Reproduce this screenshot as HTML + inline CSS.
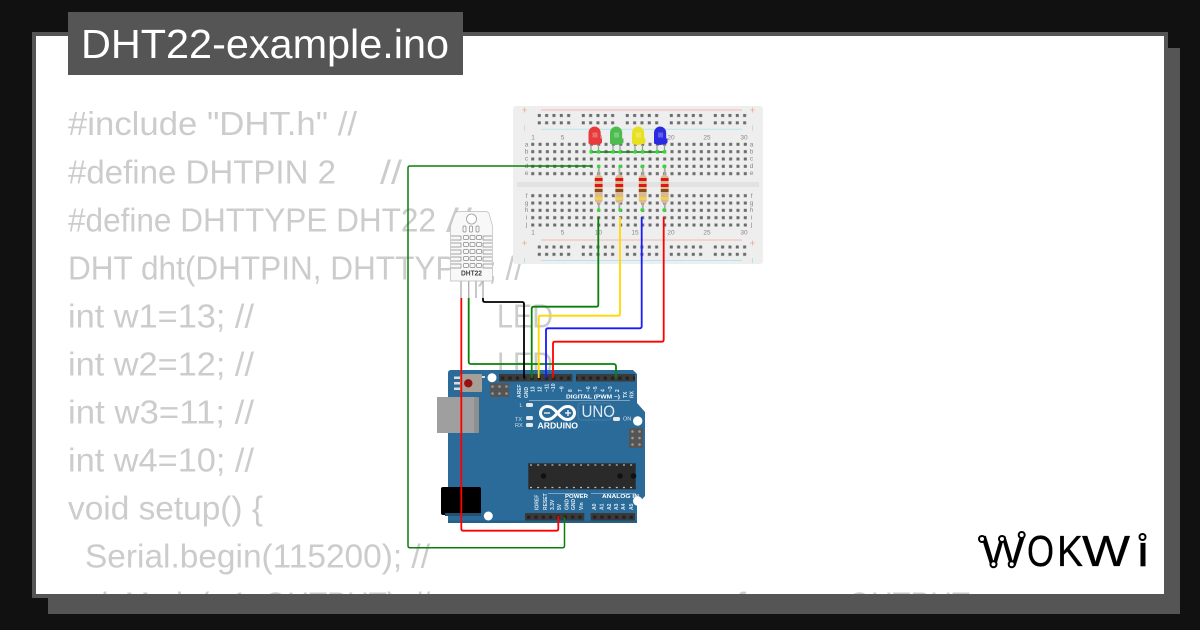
<!DOCTYPE html>
<html><head><meta charset="utf-8"><title>DHT22-example.ino</title>
<style>html,body{margin:0;padding:0;background:#111}svg{display:block}</style></head>
<body>
<svg xmlns="http://www.w3.org/2000/svg" width="1200" height="630" viewBox="0 0 1200 630">
<defs>
<clipPath id="card"><rect x="36" y="36" width="1128" height="558"/></clipPath>
<pattern id="main" patternUnits="userSpaceOnUse" x="529.03" y="140.63" width="7.33" height="7.33"><rect x="2.2" y="2.2" width="3" height="3" fill="#6a6a6a"/></pattern>
<pattern id="main2" patternUnits="userSpaceOnUse" x="529.03" y="192" width="7.33" height="7.33"><rect x="2.2" y="2.2" width="3" height="3" fill="#6a6a6a"/></pattern>
<pattern id="rail" patternUnits="userSpaceOnUse" x="537.8" y="112" width="44" height="7.33"><g fill="#6a6a6a"><rect x="0" y="2" width="3" height="3"/><rect x="7.33" y="2" width="3" height="3"/><rect x="14.66" y="2" width="3" height="3"/><rect x="22" y="2" width="3" height="3"/><rect x="29.33" y="2" width="3" height="3"/></g></pattern>
<pattern id="rail2" patternUnits="userSpaceOnUse" x="537.8" y="243.5" width="44" height="7.33"><g fill="#6a6a6a"><rect x="0" y="2" width="3" height="3"/><rect x="7.33" y="2" width="3" height="3"/><rect x="14.66" y="2" width="3" height="3"/><rect x="22" y="2" width="3" height="3"/><rect x="29.33" y="2" width="3" height="3"/></g></pattern>
<pattern id="hdr" patternUnits="userSpaceOnUse" x="499" y="374" width="7.33" height="8"><rect width="7.33" height="8" fill="#3a3a3a"/><rect x="2" y="2.5" width="3.3" height="3.3" fill="#222"/></pattern>
<pattern id="hdr2" patternUnits="userSpaceOnUse" x="525" y="513" width="7.33" height="8"><rect width="7.33" height="8" fill="#3a3a3a"/><rect x="2" y="2.5" width="3.3" height="3.3" fill="#222"/></pattern>
<g id="led"><path d="M-6 8 V-2.500 A6.100 6.500 0 0 1 6.200 -2.500 V8 Q0 11 -6 8Z"/><path d="M6 3 h1.500 v4 l-2 2z"/><rect x="-2" y="-3" width="5" height="5" fill="#fff" opacity="0.250"/></g>
<g id="res">
<rect x="-0.8" y="-8" width="1.8" height="44" fill="#aaa"/>
<rect x="-3.9" y="0" width="7.8" height="28" rx="3" fill="#d9b98f"/>
<rect x="-3.9" y="3" width="7.8" height="3" fill="#e01515"/>
<rect x="-3.9" y="9" width="7.8" height="3" fill="#e01515"/>
<rect x="-3.9" y="14" width="7.8" height="3" fill="#8a4b1a"/>
<rect x="-3.9" y="22" width="7.8" height="3" fill="#f0d050"/>
</g>
</defs>

<rect width="1200" height="630" fill="#111"/>
<rect x="48" y="48" width="1132" height="566" fill="#555"/>
<rect x="32" y="32" width="1136" height="566" fill="#555"/>
<rect x="36" y="36" width="1128" height="558" fill="#fff"/>

<g clip-path="url(#card)" font-family="'Liberation Sans',sans-serif" font-size="33" fill="#ccc">
<text x="68" y="135" textLength="289" lengthAdjust="spacingAndGlyphs">#include "DHT.h" //</text>
<text x="68" y="183.500" textLength="268" lengthAdjust="spacingAndGlyphs">#define DHTPIN 2</text>
<text x="380" y="183.500" textLength="22" lengthAdjust="spacingAndGlyphs">//</text>
<text x="68" y="231.500" textLength="368" lengthAdjust="spacingAndGlyphs">#define DHTTYPE DHT22</text>
<text x="446" y="231.500" textLength="26" lengthAdjust="spacingAndGlyphs">//</text>
<text x="68" y="279.500" textLength="455" lengthAdjust="spacingAndGlyphs">DHT dht(DHTPIN, DHTTYPE); //</text>
<text x="68" y="327.500" textLength="186" lengthAdjust="spacingAndGlyphs">int w1=13; //</text>
<text x="497" y="327.500" textLength="56" lengthAdjust="spacingAndGlyphs">LED</text>
<text x="68" y="375.500" textLength="186" lengthAdjust="spacingAndGlyphs">int w2=12; //</text>
<text x="497" y="375.500" textLength="56" lengthAdjust="spacingAndGlyphs">LED</text>
<text x="68" y="423.500" textLength="186" lengthAdjust="spacingAndGlyphs">int w3=11; //</text>
<text x="68" y="471.500" textLength="186" lengthAdjust="spacingAndGlyphs">int w4=10; //</text>
<text x="68" y="519.500" textLength="195" lengthAdjust="spacingAndGlyphs">void setup() {</text>
<text x="85" y="567.500" textLength="345" lengthAdjust="spacingAndGlyphs">Serial.begin(115200); //</text>
<text x="85" y="615.500" textLength="345" lengthAdjust="spacingAndGlyphs">pinMode(w1, OUTPUT); //</text>
<text x="736" y="615.500" textLength="10" lengthAdjust="spacingAndGlyphs">f</text>
<text x="848" y="615.500" textLength="122" lengthAdjust="spacingAndGlyphs">OUTPUT</text>
</g>

<rect x="68" y="12" width="395" height="63" fill="#555"/>
<text x="81" y="58" font-family="'Liberation Sans',sans-serif" font-size="41" fill="#fff" textLength="368" lengthAdjust="spacingAndGlyphs">DHT22-example.ino</text>

<!-- Breadboard -->
<rect x="513" y="106" width="250" height="158" rx="3" fill="#eee"/>
<rect x="517" y="182" width="242" height="5" fill="#e2e2e2"/>
<path d="M541 110 H742" stroke="#f5b8b0" stroke-width="1"/>
<path d="M541 129.300 H742" stroke="#b5e3f2" stroke-width="1"/>
<path d="M541 240 H742" stroke="#f5b8b0" stroke-width="1"/>
<path d="M541 260.500 H742" stroke="#b5e3f2" stroke-width="1"/>
<g stroke="#f2a89e" stroke-width="0.800"><path d="M522 110 h5 M524.500 107.500 v5 M750 110 h5 M752.500 107.500 v5 M522 243 h5 M524.500 240.500 v5 M750 243 h5 M752.500 240.500 v5"/></g>
<g stroke="#a8dcee" stroke-width="0.800"><path d="M524.500 125.500 v5 M752.500 125.500 v5 M524.500 258 v5 M752.500 258 v5"/></g>
<rect x="537" y="113" width="213" height="14" fill="url(#rail)"/>
<rect x="537" y="244.500" width="213" height="14" fill="url(#rail2)"/>
<rect x="529" y="140.630" width="220" height="36.650" fill="url(#main)"/>
<rect x="529" y="192" width="220" height="36.650" fill="url(#main2)"/>
<g font-family="'Liberation Sans',sans-serif" font-size="6.500" fill="#888" text-anchor="middle">
<text x="533" y="139.500">1</text><text x="562.500" y="139.500">5</text><text x="598.500" y="139.500">10</text><text x="671" y="139.500">20</text><text x="707" y="139.500">25</text><text x="744" y="139.500">30</text>
<text x="533" y="234.500">1</text><text x="562.500" y="234.500">5</text><text x="598.500" y="234.500">10</text><text x="635" y="234.500">15</text><text x="671" y="234.500">20</text><text x="707" y="234.500">25</text><text x="744" y="234.500">30</text>
<text x="526.500" y="146.500">a</text><text x="526.500" y="153.500">b</text><text x="526.500" y="160.500">c</text><text x="526.500" y="168">d</text><text x="526.500" y="175">e</text>
<text x="526.500" y="198">f</text><text x="526.500" y="205">g</text><text x="526.500" y="212">h</text><text x="526.500" y="219.500">i</text><text x="526.500" y="226.500">j</text>
<text x="751.500" y="146.500">a</text><text x="751.500" y="153.500">b</text><text x="751.500" y="160.500">c</text><text x="751.500" y="168">d</text><text x="751.500" y="175">e</text>
<text x="751.500" y="198">f</text><text x="751.500" y="205">g</text><text x="751.500" y="212">h</text><text x="751.500" y="219.500">i</text><text x="751.500" y="226.500">j</text>
</g>

<!-- LED legs -->
<g stroke="#999" stroke-width="1.200" fill="none">
<path d="M591 145 V152 M598.500 145 V152 M613 145 V152 M620 145 V152 M635 145 V152 M642.500 145 V152 M657 145 V152 M664.500 145 V152"/>
</g>
<use href="#led" x="594.500" y="135.500" fill="#e83a3a"/>
<use href="#led" x="616" y="135.500" fill="#4dbb4d"/>
<use href="#led" x="638" y="135.500" fill="#e8e020"/>
<use href="#led" x="660" y="135.500" fill="#2a2ae0"/>
<path d="M590.700 152 H664" stroke="#0a800a" stroke-width="1.500"/>

<!-- Resistors -->
<use href="#res" x="598.700" y="175"/>
<use href="#res" x="619.300" y="175"/>
<use href="#res" x="642.700" y="175"/>
<use href="#res" x="664.700" y="175"/>
<g fill="#2ee02e">
<circle cx="591" cy="152" r="1.700"/><circle cx="598.500" cy="152" r="1.700"/><circle cx="613" cy="152" r="1.700"/><circle cx="620" cy="152" r="1.700"/><circle cx="635" cy="152" r="1.700"/><circle cx="642.500" cy="152" r="1.700"/><circle cx="657" cy="152" r="1.700"/><circle cx="664.500" cy="152" r="1.700"/>
<circle cx="598.700" cy="166.500" r="1.700"/><circle cx="620" cy="166.500" r="1.700"/><circle cx="642" cy="166.500" r="1.700"/><circle cx="664" cy="166.500" r="1.700"/>
<circle cx="598.700" cy="210" r="1.700"/><circle cx="620" cy="210" r="1.700"/><circle cx="642" cy="210" r="1.700"/><circle cx="664" cy="210" r="1.700"/>
</g>

<!-- DHT22 -->
<g stroke="#aaa" stroke-width="1.300" fill="none"><path d="M461 281 V298 M468.700 281 V298 M476 281 V298 M483 281 V298"/></g>
<path d="M450.500 226 L455 213.500 Q456 211.500 459 211.500 H485 Q488 211.500 489 213.500 L492.500 226 V281 H450.500 Z" fill="#f8f8f8" stroke="#bbb" stroke-width="0.700"/>
<circle cx="471.500" cy="219" r="5" fill="#fff" stroke="#999" stroke-width="0.800"/>
<g fill="none" stroke="#888" stroke-width="0.700">
<rect x="463" y="226" width="3" height="6" rx="1"/><rect x="469.500" y="226" width="3" height="6" rx="1"/><rect x="476" y="226" width="3" height="6" rx="1"/>
<rect x="463.500" y="235.500" width="5" height="4" rx="1"/><rect x="470" y="235.500" width="5" height="4" rx="1"/><rect x="476.500" y="235.500" width="5" height="4" rx="1"/>
<rect x="463.500" y="242.500" width="5" height="4" rx="1"/><rect x="470" y="242.500" width="5" height="4" rx="1"/><rect x="476.500" y="242.500" width="5" height="4" rx="1"/>
<rect x="463.500" y="249.500" width="5" height="4" rx="1"/><rect x="470" y="249.500" width="5" height="4" rx="1"/><rect x="476.500" y="249.500" width="5" height="4" rx="1"/>
<rect x="463.500" y="256.500" width="5" height="4" rx="1"/><rect x="470" y="256.500" width="5" height="4" rx="1"/><rect x="476.500" y="256.500" width="5" height="4" rx="1"/>
<rect x="463.500" y="263.500" width="5" height="4" rx="1"/><rect x="470" y="263.500" width="5" height="4" rx="1"/><rect x="476.500" y="263.500" width="5" height="4" rx="1"/>
<path d="M451 236 H461 V240 H451 M451 243 H461 V247 H451 M451 250 H461 V254 H451 M451 257 H461 V261 H451 M451 264 H461 V268 H451"/>
<path d="M492 236 H483 V240 H492 M492 243 H483 V247 H492 M492 250 H483 V254 H492 M492 257 H483 V261 H492 M492 264 H483 V268 H492"/>
</g>
<text x="461" y="275.700" font-family="'Liberation Sans',sans-serif" font-size="7" font-weight="bold" fill="#444" textLength="21" lengthAdjust="spacingAndGlyphs">DHT22</text>

<!-- Arduino -->
<path d="M451 370 H633 L637 374 V403 L645 412 V496 L637 505 V523 H448 V373 Q448 370 451 370Z" fill="#2b6b99"/>
<path d="M448 520.500 H637 V523 H448Z" fill="#25608a"/>
<rect x="499" y="374" width="73.300" height="7.500" fill="url(#hdr)"/>
<rect x="576" y="374" width="59" height="7.500" fill="url(#hdr)"/>
<rect x="525" y="513" width="59.300" height="7.500" fill="url(#hdr2)"/>
<rect x="590.700" y="513" width="44.300" height="7.500" fill="url(#hdr2)"/>
<rect x="437" y="397" width="41" height="36" fill="#9f9f9f"/>
<rect x="474" y="397" width="5" height="36" rx="1" fill="#8f8f8f"/>
<rect x="441" y="487" width="40" height="28" rx="2" fill="#000"/>
<rect x="445" y="513" width="36" height="3" fill="#25506e"/>
<g fill="#dcdcdc"><rect x="454" y="376.500" width="6" height="2.500"/><rect x="454" y="382" width="6" height="2.500"/><rect x="454" y="387.500" width="6" height="2.500"/><rect x="482" y="376" width="3" height="2"/></g>
<rect x="460" y="374" width="22" height="18" rx="1" fill="#a5a198"/>
<circle cx="468.300" cy="383.300" r="4.200" fill="#9a1010"/>
<circle cx="492" cy="377.700" r="4.500" fill="#fff"/>
<circle cx="637.700" cy="421" r="4.700" fill="#fff"/>
<circle cx="637.700" cy="501" r="4.700" fill="#fff"/>
<circle cx="488.300" cy="516" r="4.500" fill="#fff"/>
<rect x="490" y="383" width="19" height="14" fill="#555"/>
<g fill="#999"><circle cx="492.500" cy="386.500" r="1.300"/><circle cx="499.500" cy="386.500" r="1.300"/><circle cx="506.500" cy="386.500" r="1.300"/><circle cx="492.500" cy="393.500" r="1.300"/><circle cx="499.500" cy="393.500" r="1.300"/><circle cx="506.500" cy="393.500" r="1.300"/></g>
<rect x="629" y="428" width="14" height="20" fill="#555"/>
<g fill="#999"><circle cx="632.500" cy="431.500" r="1.300"/><circle cx="639.500" cy="431.500" r="1.300"/><circle cx="632.500" cy="438" r="1.300"/><circle cx="639.500" cy="438" r="1.300"/><circle cx="632.500" cy="444.500" r="1.300"/><circle cx="639.500" cy="444.500" r="1.300"/></g>
<rect x="528.300" y="463.300" width="107.400" height="26" fill="#2a2a2a"/>
<path d="M530 465 H634 M530 487.500 H634" stroke="#bbb" stroke-width="1.300" stroke-dasharray="2 5.150"/>
<circle cx="543.500" cy="476" r="2.800" fill="#111"/><circle cx="620" cy="476" r="2.800" fill="#111"/>
<circle cx="633.500" cy="476" r="2.800" fill="#111"/>

<!-- Arduino logo -->
<path d="M557.500 413 C553 408 551 406.500 547 406.500 A6.500 6.500 0 0 0 547 419.500 C551 419.500 553 418 557.500 413 C562 408 564 406.500 568 406.500 A6.500 6.500 0 0 1 568 419.500 C564 419.500 562 418 557.500 413Z" fill="none" stroke="#fff" stroke-width="3"/>
<path d="M544 413 h6 M565 413 h6 M568 410 v6" stroke="#fff" stroke-width="1.300"/>
<rect x="578" y="403" width="33" height="17" rx="3" fill="none" stroke="#4a86b0" stroke-width="0.800"/>
<g font-family="'Liberation Sans',sans-serif" fill="#fff">
<text x="581.500" y="417" font-size="17" fill="#dfeaf2" textLength="33.500" lengthAdjust="spacingAndGlyphs">UNO</text>
<text x="537.500" y="428.500" font-size="8" font-weight="bold" textLength="40.500" lengthAdjust="spacingAndGlyphs">ARDUINO</text>
<text x="566" y="398.300" font-size="5.500" font-weight="bold" textLength="54" lengthAdjust="spacingAndGlyphs">DIGITAL (PWM ~)</text>
<text x="565" y="498" font-size="5.500" font-weight="bold" textLength="23" lengthAdjust="spacingAndGlyphs">POWER</text>
<text x="602" y="498" font-size="5.500" font-weight="bold" textLength="37" lengthAdjust="spacingAndGlyphs">ANALOG IN</text>
<text x="515" y="421" font-size="5.500" fill="#cfe0ea">TX</text>
<text x="515" y="427" font-size="5.500" fill="#cfe0ea">RX</text>
<text x="519.500" y="407" font-size="5.500" fill="#cfe0ea">L</text>
<text x="623" y="420.700" font-size="5.500" fill="#cfe0ea">ON</text>
</g>
<g fill="#e8e8e8"><rect x="526" y="403" width="7" height="4" rx="1.500"/><rect x="526" y="416" width="7" height="4" rx="1.500"/><rect x="526" y="423" width="7" height="4" rx="1.500"/><rect x="613" y="417" width="7" height="4" rx="1.500"/></g>
<path d="M529 400.500 H630" stroke="#cfe0ea" stroke-width="0.600"/>
<path d="M548 493.500 H586 M591 493.500 H636" stroke="#cfe0ea" stroke-width="0.600"/>
<g font-family="'Liberation Sans',sans-serif" font-size="5" fill="#dfeaf2" font-weight="bold">
<text transform="translate(521,398) rotate(-90)">AREF</text>
<text transform="translate(528,398) rotate(-90)">GND</text>
<text transform="translate(534.300,392) rotate(-90)">13</text>
<text transform="translate(541.300,392) rotate(-90)">12</text>
<text transform="translate(548.700,392) rotate(-90)">~11</text>
<text transform="translate(555,392) rotate(-90)">~10</text>
<text transform="translate(563.700,392) rotate(-90)">~9</text>
<text transform="translate(572,392) rotate(-90)">8</text>
<text transform="translate(582,392) rotate(-90)">7</text>
<text transform="translate(590,392) rotate(-90)">~6</text>
<text transform="translate(597,392) rotate(-90)">~5</text>
<text transform="translate(604.700,392) rotate(-90)">4</text>
<text transform="translate(612,392) rotate(-90)">~3</text>
<text transform="translate(619,392) rotate(-90)">2</text>
<text transform="translate(627,398) rotate(-90)">TX</text>
<text transform="translate(633.700,398) rotate(-90)">RX</text>
<text transform="translate(538.700,510) rotate(-90)">IOREF</text>
<text transform="translate(547,510) rotate(-90)">RESET</text>
<text transform="translate(554,510) rotate(-90)">3.3V</text>
<text transform="translate(561,510) rotate(-90)">5V</text>
<text transform="translate(568.700,510) rotate(-90)">GND</text>
<text transform="translate(575,510) rotate(-90)">GND</text>
<text transform="translate(583,510) rotate(-90)">Vin</text>
<text transform="translate(596,510) rotate(-90)">A0</text>
<text transform="translate(603.700,510) rotate(-90)">A1</text>
<text transform="translate(611,510) rotate(-90)">A2</text>
<text transform="translate(618,510) rotate(-90)">A3</text>
<text transform="translate(625,510) rotate(-90)">A4</text>
<text transform="translate(633,510) rotate(-90)">A5</text>
</g>

<!-- Wires -->
<g fill="none" stroke-width="1.800" stroke-linejoin="round">
<path d="M592 166 H410 Q408 166 408 168 V545.700 Q408 547.700 410 547.700 H562.500 Q564.500 547.700 564.500 545.700 V517" stroke="#0a800a" stroke-width="1.500"/>
<path d="M461.300 298 V528.700 Q461.300 530.700 463.300 530.700 H556.300 Q558.300 530.700 558.300 528.700 V516" stroke="#f00"/>
<path d="M468.700 298 V361.500 Q468.700 364 471 364 H613.500 Q616 364 616 366.500 V378" stroke="#0a800a"/>
<path d="M483 298 V300 Q483 302 485 302 H522 Q524 302 524 304 V378" stroke="#000"/>
<path d="M598.300 217 V304.700 Q598.300 306.700 596.300 306.700 H533.700 Q531.700 306.700 531.700 308.700 V378" stroke="#0a800a"/>
<path d="M620 217 V313.700 Q620 315.700 618 315.700 H540.700 Q538.700 315.700 538.700 317.700 V378" stroke="#ffd800"/>
<path d="M641.700 217 V326.300 Q641.700 328.300 639.700 328.300 H548 Q546 328.300 546 330.300 V378" stroke="#1a1aff"/>
<path d="M663.700 217 V339.700 Q663.700 341.700 661.700 341.700 H555 Q553 341.700 553 343.700 V378" stroke="#f00"/>
</g>

<!-- Wokwi logo -->
<g font-family="'Liberation Sans',sans-serif" font-size="44" fill="#000" stroke="#000" stroke-width="0.300">
<text x="981" y="566" textLength="44" lengthAdjust="spacingAndGlyphs">W</text>
<text x="1027" y="566" textLength="27" lengthAdjust="spacingAndGlyphs">O</text>
<text x="1057" y="566" textLength="26" lengthAdjust="spacingAndGlyphs">K</text>
<text x="1082" y="566" textLength="48" lengthAdjust="spacingAndGlyphs">W</text>
<text x="1137" y="566" textLength="12" lengthAdjust="spacingAndGlyphs">i</text>
</g>
<g fill="#fff" stroke="#000" stroke-width="2">
<circle cx="982" cy="539" r="3"/><circle cx="1002" cy="539" r="3"/><circle cx="1021.700" cy="535" r="3"/><circle cx="993.500" cy="564.300" r="3"/><circle cx="1011.700" cy="564.300" r="3"/><circle cx="1142.500" cy="537" r="3"/>
</g>
</svg>
</body></html>
